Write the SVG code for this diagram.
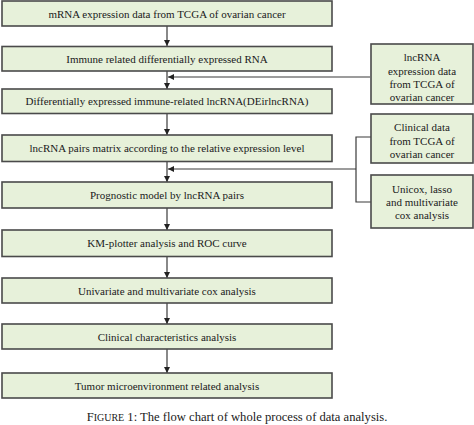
<svg xmlns="http://www.w3.org/2000/svg" width="474" height="425" viewBox="0 0 474 425">
<defs>
<style>
.box{fill:#e7f1da;stroke:#4a4a4a;stroke-width:1.6}
.t{font-family:"Liberation Serif","Times New Roman",serif;font-size:11px;fill:#1a1a1a;text-anchor:middle}
.c{fill:none;stroke:#3a3a3a;stroke-width:1.2}
.cap{font-family:"Liberation Serif","Times New Roman",serif;font-size:12.6px;fill:#1a1a1a;text-anchor:middle}
</style>
<marker id="ah" viewBox="0 0 10 10" refX="10" refY="5" markerWidth="6" markerHeight="6" orient="auto" markerUnits="userSpaceOnUse">
<path d="M0,0 L10,5 L0,10 z" fill="#222"/>
</marker>
</defs>
<rect width="474" height="425" fill="#fff"/>
<g id="connectors">
<line class="c" x1="167" y1="26" x2="167" y2="46" marker-end="url(#ah)"/>
<line class="c" x1="167" y1="71" x2="167" y2="89" marker-end="url(#ah)"/>
<line class="c" x1="167" y1="114" x2="167" y2="135" marker-end="url(#ah)"/>
<line class="c" x1="167" y1="162" x2="167" y2="182" marker-end="url(#ah)"/>
<line class="c" x1="167" y1="208" x2="167" y2="230" marker-end="url(#ah)"/>
<line class="c" x1="167" y1="256" x2="167" y2="278" marker-end="url(#ah)"/>
<line class="c" x1="167" y1="303" x2="167" y2="324" marker-end="url(#ah)"/>
<line class="c" x1="167" y1="349" x2="167" y2="373" marker-end="url(#ah)"/>
<line class="c" x1="370" y1="77" x2="168" y2="77" marker-end="url(#ah)"/>
<polyline class="c" points="371,137 356,137 356,202 371,202"/>
<line class="c" x1="356" y1="169" x2="168" y2="169" marker-end="url(#ah)"/>
</g>
<g id="n1"><rect class="box" x="2" y="1" width="330" height="25"/><text class="t" x="167" y="17.5">mRNA expression data from TCGA of ovarian cancer</text></g>
<g id="n2"><rect class="box" x="2" y="46.5" width="330" height="24.5"/><text class="t" x="167" y="62.5">Immune related differentially expressed RNA</text></g>
<g id="n3"><rect class="box" x="2" y="89" width="330" height="24.5"/><text class="t" x="167" y="105">Differentially expressed immune-related lncRNA(DEirlncRNA)</text></g>
<g id="n4"><rect class="box" x="2" y="135" width="330" height="26.5"/><text class="t" x="167" y="152">lncRNA pairs matrix according to the relative expression level</text></g>
<g id="n5"><rect class="box" x="2" y="182" width="330" height="26"/><text class="t" x="167" y="199">Prognostic model by lncRNA pairs</text></g>
<g id="n6"><rect class="box" x="2" y="230" width="330" height="26.5"/><text class="t" x="167" y="247">KM-plotter analysis and ROC curve</text></g>
<g id="n7"><rect class="box" x="2" y="278" width="330" height="25"/><text class="t" x="167" y="294.5">Univariate and multivariate cox analysis</text></g>
<g id="n8"><rect class="box" x="2" y="324" width="330" height="25"/><text class="t" x="167" y="340.5">Clinical characteristics analysis</text></g>
<g id="n9"><rect class="box" x="2" y="373" width="330" height="25"/><text class="t" x="167" y="389.5">Tumor microenvironment related analysis</text></g>
<g id="rA"><rect class="box" x="371" y="44" width="102" height="60"/>
<text class="t" x="422" y="61">lncRNA</text><text class="t" x="422" y="74.5">expression data</text><text class="t" x="422" y="87.5">from TCGA of</text><text class="t" x="422" y="101">ovarian cancer</text></g>
<g id="rB"><rect class="box" x="371" y="114" width="102" height="49"/>
<text class="t" x="422" y="131">Clinical data</text><text class="t" x="422" y="145">from TCGA of</text><text class="t" x="422" y="158">ovarian cancer</text></g>
<g id="rC"><rect class="box" x="371" y="175" width="102" height="53"/>
<text class="t" x="422" y="193">Unicox, lasso</text><text class="t" x="422" y="206">and multivariate</text><text class="t" x="422" y="219">cox analysis</text></g>
<text class="cap" x="237" y="421">F<tspan font-size="10">IGURE</tspan> 1: The flow chart of whole process of data analysis.</text>
</svg>
